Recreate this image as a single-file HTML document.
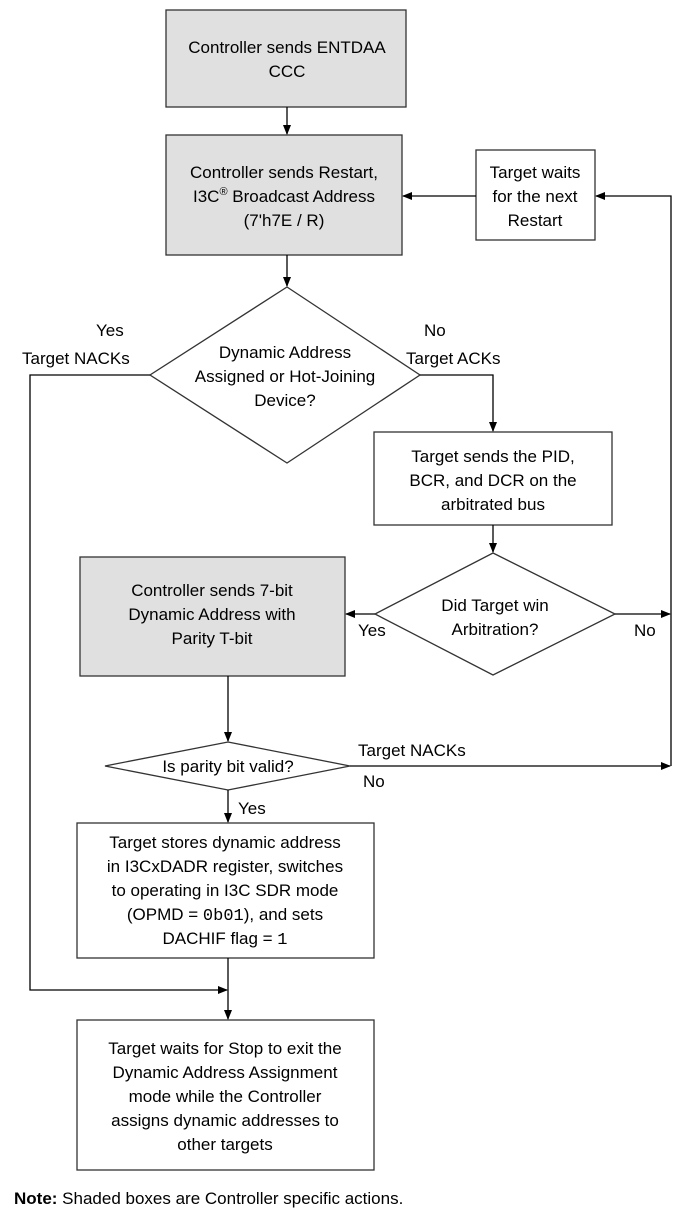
<!DOCTYPE html>
<html><head><meta charset="utf-8"><style>
body{margin:0;background:#fff}
svg text{font-family:"Liberation Sans",Arial,sans-serif;font-size:17px;fill:#000}
.m{font-family:"Liberation Mono",monospace}
</style></head><body>
<svg width="690" height="1215" viewBox="0 0 690 1215" xmlns="http://www.w3.org/2000/svg">
<defs><marker id="a" markerWidth="10" markerHeight="10" refX="9" refY="5" orient="auto" markerUnits="userSpaceOnUse"><path d="M0,1 L10,5 L0,9 Z" fill="#000"/></marker></defs>
<g stroke="#333" stroke-width="1.3" fill="none">
<rect x="166" y="10" width="240" height="97" fill="#e0e0e0"/>
<rect x="166" y="135" width="236" height="120" fill="#e0e0e0"/>
<rect x="476" y="150" width="119" height="90" fill="#fff"/>
<polygon points="287,287 420,375 287,463 150,375" fill="#fff"/>
<rect x="374" y="432" width="238" height="93" fill="#fff"/>
<polygon points="493,553 615,614 493,675 375,614" fill="#fff"/>
<rect x="80" y="557" width="265" height="119" fill="#e0e0e0"/>
<polygon points="228,742 350,766 228,790 105,766" fill="#fff"/>
<rect x="77" y="823" width="297" height="135" fill="#fff"/>
<rect x="77" y="1020" width="297" height="150" fill="#fff"/>
</g>
<g stroke="#000" stroke-width="1.3" fill="none">
<line x1="287" y1="107" x2="287" y2="134" marker-end="url(#a)"/>
<line x1="476" y1="196" x2="403" y2="196" marker-end="url(#a)"/>
<polyline points="671,766 671,196 596,196" marker-end="url(#a)"/>
<line x1="287" y1="255" x2="287" y2="286" marker-end="url(#a)"/>
<polyline points="150,375 30,375 30,990 227,990" marker-end="url(#a)"/>
<polyline points="420,375 493,375 493,431" marker-end="url(#a)"/>
<line x1="493" y1="525" x2="493" y2="552" marker-end="url(#a)"/>
<line x1="375" y1="614" x2="346" y2="614" marker-end="url(#a)"/>
<line x1="615" y1="614" x2="670" y2="614" marker-end="url(#a)"/>
<line x1="228" y1="676" x2="228" y2="741" marker-end="url(#a)"/>
<line x1="350" y1="766" x2="670" y2="766" marker-end="url(#a)"/>
<line x1="228" y1="790" x2="228" y2="822" marker-end="url(#a)"/>
<line x1="228" y1="958" x2="228" y2="1019" marker-end="url(#a)"/>
</g>
<g text-anchor="middle">
<text x="287" y="53">Controller sends ENTDAA</text>
<text x="287" y="77">CCC</text>
<text x="284" y="178">Controller sends Restart,</text>
<text x="284" y="202">I3C<tspan font-size="11" dy="-7">®</tspan><tspan dy="7"> Broadcast Address</tspan></text>
<text x="284" y="226">(7'h7E / R)</text>
<text x="535" y="178">Target waits</text>
<text x="535" y="202">for the next</text>
<text x="535" y="226">Restart</text>
<text x="285" y="358">Dynamic Address</text>
<text x="285" y="382">Assigned or Hot-Joining</text>
<text x="285" y="406">Device?</text>
<text x="493" y="462">Target sends the PID,</text>
<text x="493" y="486">BCR, and DCR on the</text>
<text x="493" y="510">arbitrated bus</text>
<text x="495" y="611">Did Target win</text>
<text x="495" y="635">Arbitration?</text>
<text x="212" y="596">Controller sends 7-bit</text>
<text x="212" y="620">Dynamic Address with</text>
<text x="212" y="644">Parity T-bit</text>
<text x="228" y="772">Is parity bit valid?</text>
<text x="225" y="848">Target stores dynamic address</text>
<text x="225" y="872">in I3CxDADR register, switches</text>
<text x="225" y="896">to operating in I3C SDR mode</text>
<text x="225" y="920">(OPMD = <tspan class="m">0b01</tspan>), and sets</text>
<text x="225" y="944">DACHIF flag = <tspan class="m">1</tspan></text>
<text x="225" y="1054">Target waits for Stop to exit the</text>
<text x="225" y="1078">Dynamic Address Assignment</text>
<text x="225" y="1102">mode while the Controller</text>
<text x="225" y="1126">assigns dynamic addresses to</text>
<text x="225" y="1150">other targets</text>
</g>
<text x="96" y="336">Yes</text>
<text x="22" y="364">Target NACKs</text>
<text x="424" y="336">No</text>
<text x="406" y="364">Target ACKs</text>
<text x="358" y="636">Yes</text>
<text x="634" y="636">No</text>
<text x="358" y="756">Target NACKs</text>
<text x="363" y="787">No</text>
<text x="238" y="814">Yes</text>
<text x="14" y="1204"><tspan font-weight="bold">Note:</tspan> Shaded boxes are Controller specific actions.</text>
</svg>
</body></html>
